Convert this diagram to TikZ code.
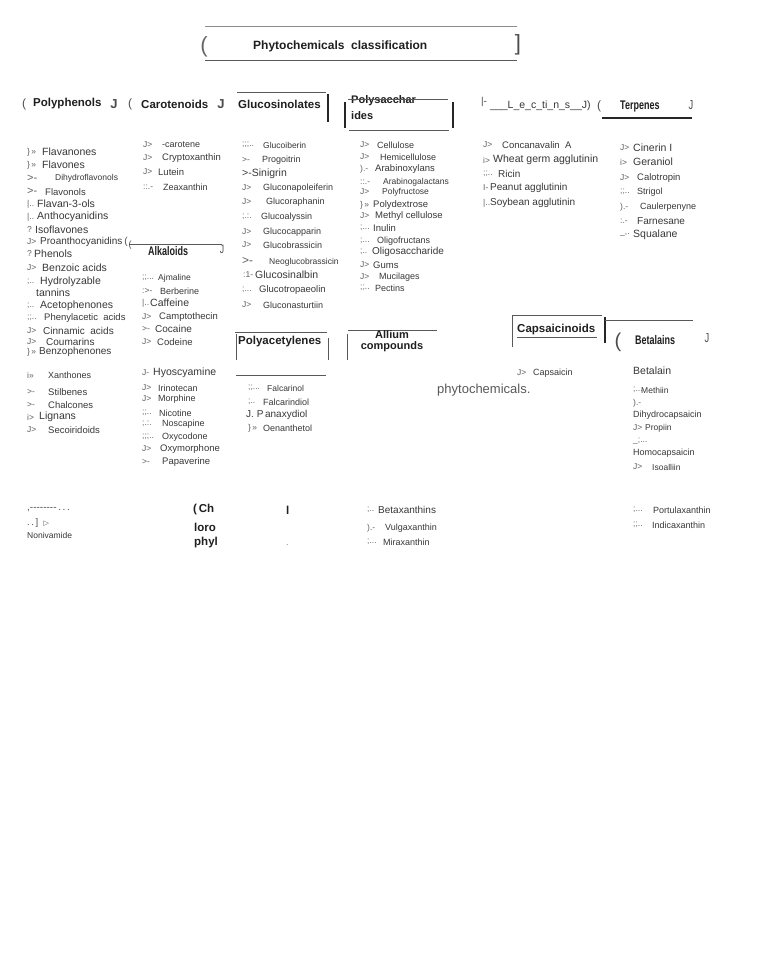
\documentclass[tikz,border=0pt]{standalone}
\usepackage{fontspec}
\setmainfont{Liberation Sans}
\newfontfamily\narrowf[FakeStretch=0.72]{Liberation Sans}
\newfontfamily\dvf{DejaVu Sans}
\newcommand{\fs}[1]{\fontsize{#1}{#1}\selectfont}
\newcommand{\ent}[7]{\node[pre] (#1a) at (#4,#3) {#5};\node[itm,#2] (#1) at (#6,#3) {#7};}
\tikzset{
  itm/.style={anchor=west,inner sep=0pt,text=black!78,font=\fs{10}},
  pre/.style={anchor=west,inner sep=0pt,text=black!62,font=\fs{8.5}},
  f9/.style={font=\fs{9}}, f95/.style={font=\fs{9.5}}, f10/.style={font=\fs{10}},
  f105/.style={font=\fs{10.5}}, f85/.style={font=\fs{8.5}},
  head/.style={anchor=west,inner sep=0pt,text=black!88,font=\bfseries\fs{11.5}},
  nhead/.style={anchor=west,inner sep=0pt,text=black!88,font=\narrowf\bfseries\fs{12.5}},
  deco/.style={anchor=center,inner sep=0pt,text=black!70,font=\fs{12}},
  rule/.style={draw=black!65,line width=0.8pt},
  bar/.style={draw=black!85,line width=1.4pt}
}
\begin{document}
\begin{tikzpicture}[x=1pt,y=-1pt]
\useasboundingbox[fill=white] (0,0) rectangle (768,968);

% title
\draw[draw=black!45,line width=1pt] (205,27) -- (517,27);
\draw[rule] (205,60) -- (517,60);
\node[deco,font=\fs{22},text=black!60] (tl) at (204,47) {(};
\node[deco,font=\fs{22}] (tr) at (518,45) {]};
\node[head,font=\bfseries\fs{12}] (title) at (253,46) {Phytochemicals\ \ classification};

% row of headings
\node[deco] (pl) at (24,104) {(};
\node[head] (poly) at (33,104) {Polyphenols};
\node[deco,font=\bfseries\fs{13}] (pr) at (114,104) {J};
\node[deco] (cl) at (130,104) {(};
\node[head] (caro) at (141,104) {Carotenoids};
\node[deco,font=\bfseries\fs{13}] (cr) at (221,104) {J};
\draw[rule] (237,92) -- (326,92);
\draw[bar] (328,94) -- (328,122);
\node[head] (gluc) at (238,104) {Glucosinolates};
\node[head,font=\bfseries\fs{11}] (psa) at (351,101) {Polysacchar};
\node[head,font=\bfseries\fs{11}] (psb) at (351,116) {ides};
\draw[rule] (348,99) -- (448,99);
\draw[bar] (345,102) -- (345,128);
\draw[rule] (349,130) -- (449,130);
\draw[bar] (453,102) -- (453,128);
\node[deco,font=\fs{10}] (lecl) at (484,102) {|-};
\node[itm,font=\fs{10.5}] (lect) at (490,106) {\_\_\_L\_e\_c\_ti\_n\_s\_\_J)};
\node[deco] (tel) at (599,106) {(};
\node[nhead] (terp) at (620,106) {Terpenes};
\node[deco,font=\narrowf\fs{13}] (ter) at (691,105) {J};
\draw[bar,line width=1.6pt] (602,118) -- (692,118);

% polyphenols
\ent{p1}{f105}{152}{27}{\}\,»}{42}{Flavanones}
\ent{p2}{f105}{165}{27}{\}\,»}{42}{Flavones}
\node[pre,font=\fs{11}] (p3a) at (27,178) {>-};
\node[itm,f85] (p3) at (55,178) {Dihydroflavonols};
\node[pre,font=\fs{11}] (p4a) at (27,191) {>-};
\node[itm,f95] (p4) at (45,192) {Flavonols};
\ent{p5}{f105}{204}{27}{|..}{37}{Flavan-3-ols}
\ent{p6}{f105}{217}{27}{|..}{37}{Anthocyanidins}
\ent{p7}{f105}{230}{27}{?}{35}{Isoflavones}
\ent{p8}{f10}{242}{27}{J>}{40}{Proanthocyanidins}
\node[deco,font=\fs{10}] (p8b) at (126,242) {(};
\ent{p9}{f105}{254}{27}{?}{34}{Phenols}
\ent{p10}{f105}{268}{27}{J>}{42}{Benzoic acids}
\ent{p11}{f105}{282}{27}{;..}{40}{Hydrolyzable}
\node[itm,f105] (p12) at (36,293) {tannins};
\ent{p13}{f105}{306}{27}{;..}{40}{Acetophenones}
\ent{p14}{f95}{318}{27}{;;..}{44}{Phenylacetic\ \ acids}
\ent{p15}{f10}{331}{27}{J>}{43}{Cinnamic\ \ acids}
\ent{p16}{f10}{342}{27}{J>}{46}{Coumarins}
\ent{p17}{f10}{352}{27}{\}\,»}{39}{Benzophenones}
\ent{p18}{f9}{375}{27}{i»}{48}{Xanthones}
\ent{p19}{f95}{392}{27}{>-}{48}{Stilbenes}
\ent{p20}{f95}{405}{27}{>-}{48}{Chalcones}
\ent{p21}{f105}{417}{27}{i>}{39}{Lignans}
\ent{p22}{f95}{430}{27}{J>}{48}{Secoiridoids}

% carotenoids
\ent{c1}{f9}{145}{143}{J>}{162}{-carotene}
\ent{c2}{f95}{158}{143}{J>}{162}{Cryptoxanthin}
\ent{c3}{f95}{172}{143}{J>}{158}{Lutein}
\ent{c4}{f9}{187}{143}{::.-}{163}{Zeaxanthin}

% alkaloids
\draw[rule] (129,244) -- (222,244);
\node[deco,font=\fs{9}] (al) at (130,245) {(};
\node[nhead] (alk) at (148,251) {Alkaloids};
\node[deco,font=\narrowf\fs{12}] (ar) at (222,249) {J};
\ent{a1}{f85}{278}{142}{;;...}{158}{Ajmaline}
\ent{a2}{f9}{291}{142}{:>-}{160}{Berberine}
\ent{a3}{f105}{303}{142}{|..}{150}{Caffeine}
\ent{a4}{f95}{317}{142}{J>}{159}{Camptothecin}
\ent{a5}{f10}{329}{142}{>-}{155}{Cocaine}
\ent{a6}{f95}{342}{142}{J>}{157}{Codeine}
\ent{a7}{f105}{373}{142}{J-}{153}{Hyoscyamine}
\ent{a8}{f9}{388}{142}{J>}{158}{Irinotecan}
\ent{a9}{f9}{399}{142}{J>}{158}{Morphine}
\ent{a10}{f9}{413}{142}{;;..}{159}{Nicotine}
\ent{a11}{f9}{424}{142}{;.:.}{162}{Noscapine}
\ent{a12}{f9}{437}{142}{;;;..}{162}{Oxycodone}
\ent{a13}{f95}{449}{142}{J>}{160}{Oxymorphone}
\ent{a14}{f95}{462}{142}{>-}{162}{Papaverine}

% glucosinolates
\ent{g1}{f85}{145}{242}{;;;..}{263}{Glucoiberin}
\ent{g2}{f9}{160}{242}{>-}{262}{Progoitrin}
\node[itm,f105] (g3) at (242,174) {>-Sinigrin};
\ent{g4}{f9}{188}{242}{J>}{263}{Gluconapoleiferin}
\ent{g5}{f9}{202}{242}{J>}{266}{Glucoraphanin}
\ent{g6}{f9}{217}{242}{;.:.}{261}{Glucoalyssin}
\ent{g7}{f9}{232}{242}{J>}{263}{Glucocapparin}
\ent{g8}{f9}{245}{242}{J>}{263}{Glucobrassicin}
\node[pre,font=\fs{12}] (g9a) at (242,261) {>-};
\node[itm,f85] (g9) at (269,262) {Neoglucobrassicin};
\ent{g10}{f105}{275}{243}{:1-}{255}{Glucosinalbin}
\ent{g11}{f95}{290}{242}{;...}{259}{Glucotropaeolin}
\ent{g12}{f9}{305}{242}{J>}{263}{Gluconasturtiin}

% polysaccharides
\ent{s1}{f9}{145}{360}{J>}{377}{Cellulose}
\ent{s2}{f9}{157}{360}{J>}{380}{Hemicellulose}
\ent{s3}{f95}{169}{360}{).-}{375}{Arabinoxylans}
\ent{s4}{f85}{182}{360}{::.-}{383}{Arabinogalactans}
\ent{s5}{f85}{192}{360}{J>}{382}{Polyfructose}
\ent{s6}{f95}{205}{360}{\}\,»}{373}{Polydextrose}
\ent{s7}{f95}{216}{360}{J>}{375}{Methyl cellulose}
\ent{s8}{f95}{228}{360}{;...}{373}{Inulin}
\ent{s9}{f9}{241}{360}{;...}{377}{Oligofructans}
\ent{s10}{f10}{252}{360}{;..}{372}{Oligosaccharide}
\ent{s11}{f95}{265}{360}{J>}{373}{Gums}
\ent{s12}{f9}{277}{360}{J>}{379}{Mucilages}
\ent{s13}{f9}{288}{360}{;;..}{375}{Pectins}

% lectins
\ent{l1}{f95}{145}{483}{J>}{502}{Concanavalin\ \ A}
\ent{l2}{f105}{160}{483}{i>}{493}{Wheat germ agglutinin}
\ent{l3}{f10}{174}{483}{;;..}{498}{Ricin}
\ent{l4}{f10}{188}{483}{I-}{490}{Peanut agglutinin}
\ent{l5}{f10}{203}{483}{|..}{490}{Soybean agglutinin}

% terpenes
\ent{t1}{f105}{148}{620}{J>}{633}{Cinerin I}
\ent{t2}{f105}{162}{620}{i>}{633}{Geraniol}
\ent{t3}{f95}{178}{620}{J>}{637}{Calotropin}
\ent{t4}{f9}{192}{620}{;;..}{637}{Strigol}
\ent{t5}{f9}{207}{620}{).-}{640}{Caulerpenyne}
\ent{t6}{f10}{221}{620}{:.-}{637}{Farnesane}
\ent{t7}{f105}{235}{620}{\_,.}{633}{Squalane}

% polyacetylenes
\draw[rule] (235,332) -- (327,332);
\draw[rule] (236,334) -- (236,360);
\draw[rule] (328,338) -- (328,360);
\node[head] (pac) at (238,342) {Polyacetylenes};
\draw[rule] (236,375) -- (326,375);
\ent{y1}{f85}{388}{248}{;;...}{267}{Falcarinol}
\ent{y2}{f9}{402}{248}{;..}{263}{Falcarindiol}
\node[itm,f10] (y3) at (246,415) {J. P\,anaxydiol};
\ent{y4}{f9}{428}{248}{\}\,»}{263}{Oenanthetol}

% allium
\draw[rule] (348,330) -- (437,330);
\draw[rule] (347,334) -- (347,360);
\node[head,anchor=center,font=\bfseries\fs{11}] (all1) at (392,335) {Allium};
\node[head,anchor=center,font=\bfseries\fs{11}] (all2) at (392,347) {compounds};

% phytochemicals.
\node[itm,font=\fs{13},text=black!65] (phy) at (437,390) {phytochemicals.};

% capsaicinoids / betalains
\draw[rule] (512,316) -- (512,347);
\draw[rule] (512,315) -- (602,315);
\node[head] (cap) at (517,330) {Capsaicinoids};
\draw[rule] (517,337) -- (597,337);
\draw[bar,line width=1.2pt] (605,317) -- (605,343);
\draw[rule] (605,320) -- (693,320);
\node[deco,font=\fs{20},text=black!70] (bl) at (618,342) {(};
\node[nhead] (bet) at (635,340) {Betalains};
\node[deco,font=\narrowf\fs{13}] (br) at (707,338) {J};
\ent{k1}{f9}{373}{517}{J>}{533}{Capsaicin}
\node[itm,f105] (b1) at (633,371) {Betalain};
\ent{b2}{f85}{390}{633}{;...}{641}{Methiin}
\node[pre] (b3) at (633,403) {).-};
\node[itm,f9] (b4) at (633,415) {Dihydrocapsaicin};
\ent{b5}{f85}{428}{633}{J>}{645}{Propiin}
\node[pre] (b6) at (633,441) {\_;...};
\node[itm,f9] (b7) at (633,453) {Homocapsaicin};
\ent{b8}{f85}{467}{633}{J>}{652}{Isoalliin}

% bottom
\node[itm,font=\fs{10},text=black!70] (n1) at (27,510) {,-{}-{}-{}-{}-{}-{}-{}-\,.\,.\,.};
\node[itm,font=\fs{9.5},text=black!70] (n2) at (27,523) {.\,.\,]\ \ {\dvf\fs{7}▷}};
\node[itm,f85] (n3) at (27,535) {Nonivamide};
\node[head,font=\bfseries\fs{11.5}] (ch1) at (193,510) {(\,Ch};
\node[head,font=\bfseries\fs{11.5}] (ch2) at (194,527) {loro};
\node[head,font=\bfseries\fs{11.5}] (ch3) at (194,543) {phyl};
\node[head,font=\bfseries\fs{11.5}] (ch4) at (286,510) {l};
\node[itm,f9,text=black!50] (ch5) at (286,545) {.};
\ent{x1}{f10}{510}{367}{;..}{378}{Betaxanthins}
\ent{x2}{f9}{528}{367}{).-}{385}{Vulgaxanthin}
\ent{x3}{f9}{542}{367}{;...}{383}{Miraxanthin}
\ent{x4}{f9}{510}{633}{;...}{653}{Portulaxanthin}
\ent{x5}{f9}{525}{633}{;;..}{652}{Indicaxanthin}
\end{tikzpicture}
\end{document}
